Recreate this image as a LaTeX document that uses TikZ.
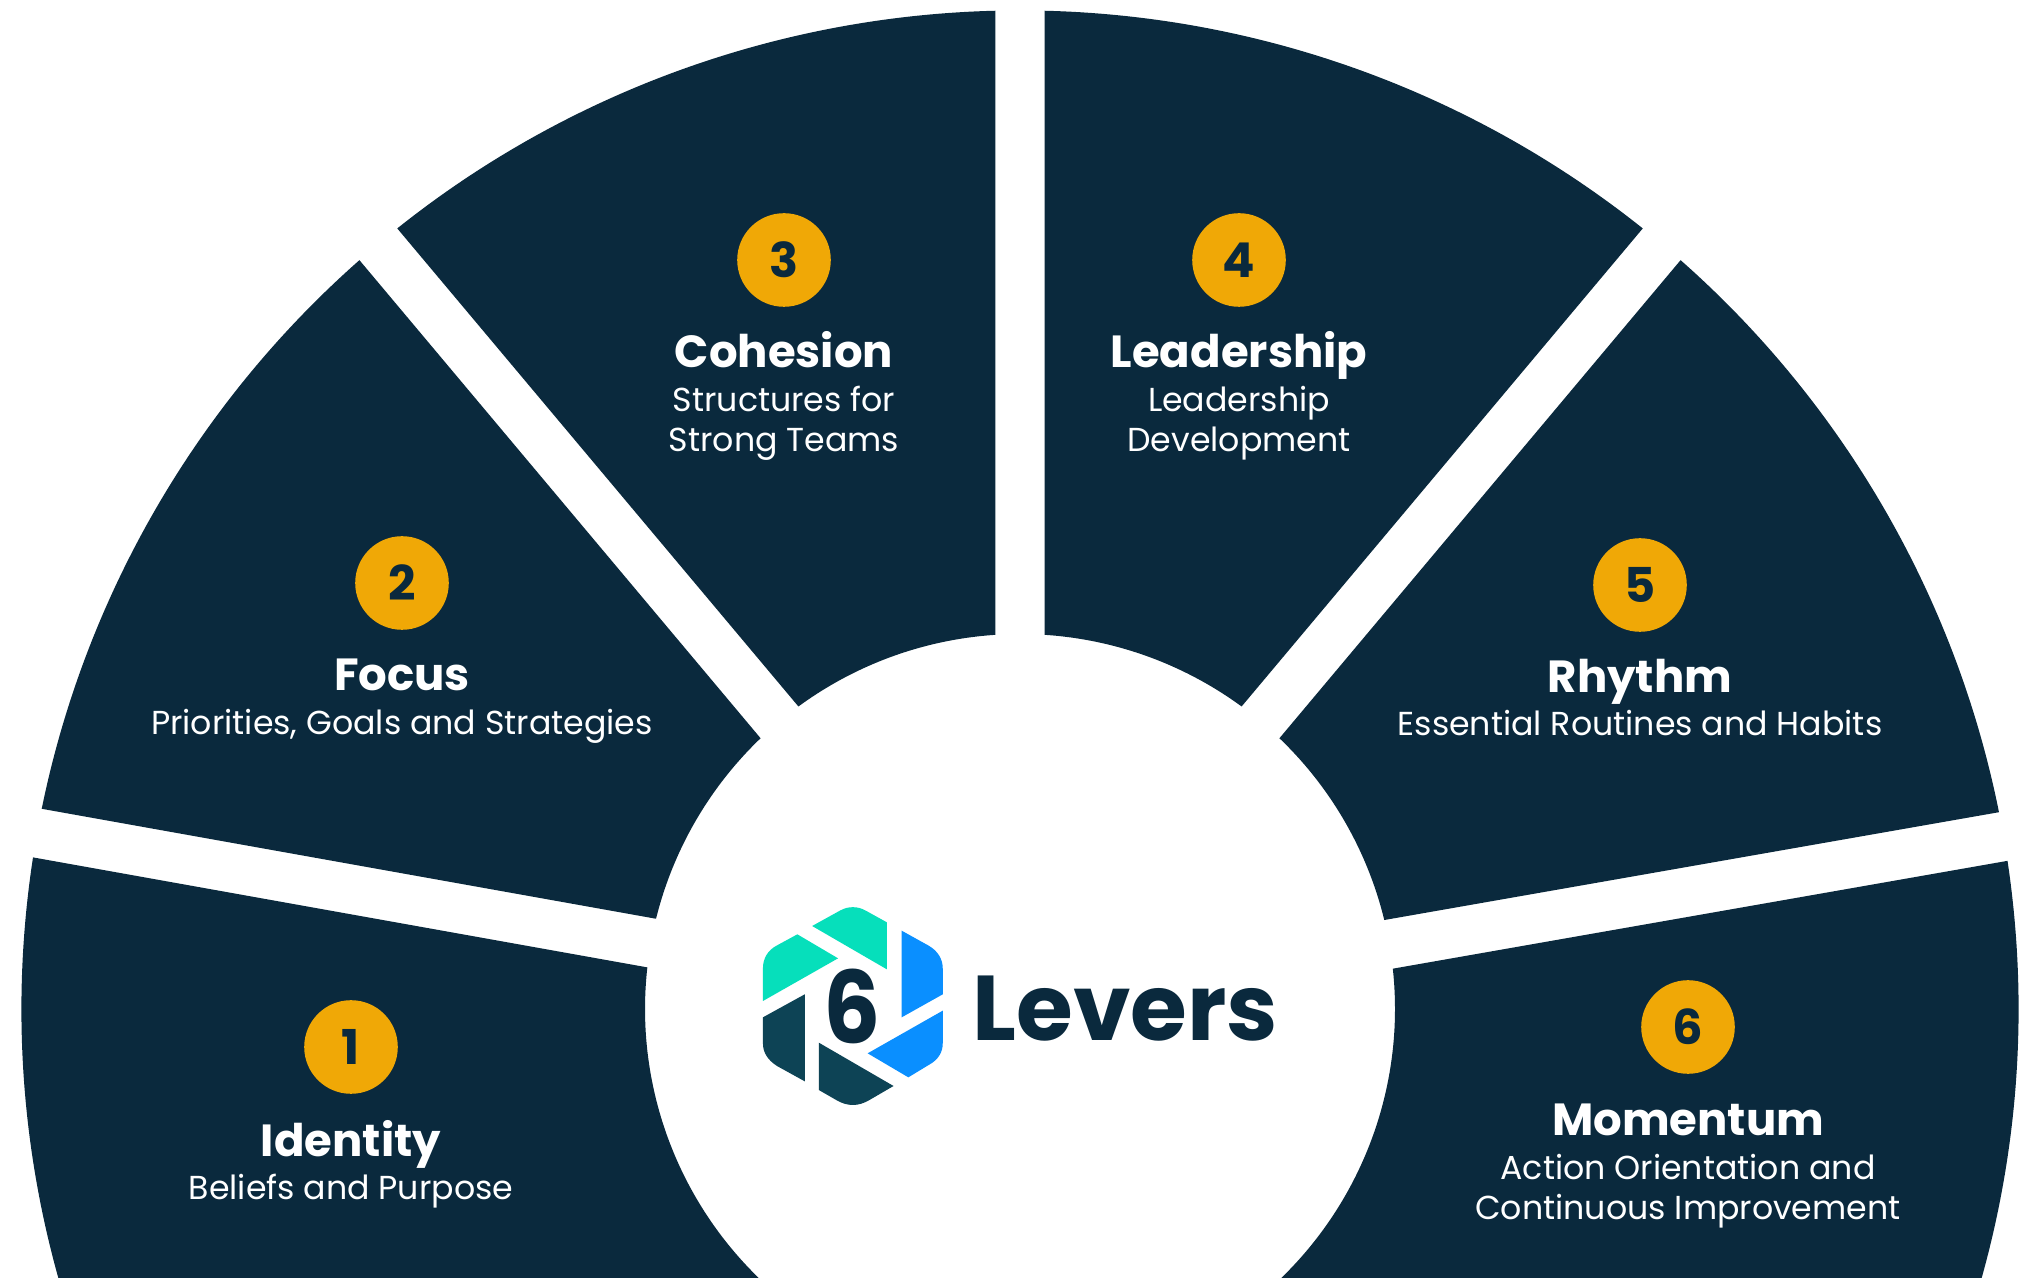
\documentclass[tikz,border=0pt]{standalone}
\usepackage{fontspec}
\setmainfont{Poppins}
\newfontfamily\heavy{Poppins Bold}
\definecolor{navy}{HTML}{0A293D}
\definecolor{amber}{HTML}{F0A806}
\definecolor{mint}{HTML}{06DFBB}
\definecolor{azure}{HTML}{0A8FFF}
\definecolor{deepteal}{HTML}{0D4355}
\tikzset{
  sectorfill/.style={fill=navy},
  badge/.style={circle,fill=amber,minimum size=93.6pt,inner sep=0pt,text=navy,font=\heavy\fontsize{48}{48}\selectfont},
  headline/.style={anchor=base,text=white,inner sep=0pt,font=\heavy\fontsize{45}{50}\selectfont},
  subline/.style={anchor=base,text=white,inner sep=0pt,align=center,font=\fontsize{33.2}{39.5}\selectfont},
}
\newcommand\sect[2]{\fill[sectorfill] (#1+3.777:375pt) -- (#1+1.417:998.6pt) arc[start angle=#1+1.417,end angle=#2-1.417,radius=998.6pt] -- (#2-3.777:375pt) arc[start angle=#2-3.777,end angle=#1+3.777,radius=375pt] -- cycle;}
\begin{document}
\begin{tikzpicture}[x=1pt,y=1pt]
\useasboundingbox (0,0) rectangle (2039,1277);
\fill[white] (0,0) rectangle (2039,1277);
\begin{scope}
\clip (0,0) rectangle (2039,1277);
\begin{scope}[shift={(1020,268)}]
\sect{169.85}{240}
\sect{130}{169.85}
\sect{90}{130}
\sect{50}{90}
\sect{9.95}{50}
\sect{-60}{9.95}
\end{scope}
\end{scope}
\node[badge] (b1) at (351,230) {1};
\node[badge] (b2) at (402,694) {2};
\node[badge] (b3) at (784,1017) {3};
\node[badge] (b4) at (1239,1017) {4};
\node[badge] (b5) at (1640,692) {5};
\node[badge] (b6) at (1688,250) {6};
\node[headline] (t1) at (351,121) {Identity};
\node[headline] (t2) at (402,586.5) {Focus};
\node[headline] (t3) at (784,909) {Cohesion};
\node[headline] (t4) at (1239,909) {Leadership};
\node[headline] (t5) at (1640,584) {Rhythm};
\node[headline] (t6) at (1688,142) {Momentum};
\node[subline] (s1) at (351,78) {Beliefs and Purpose};
\node[subline] (s2) at (402,542) {Priorities, Goals and Strategies};
\node[subline] (s3) at (784,825.5) {Structures for\\Strong Teams};
\node[subline] (s4) at (1239,825.5) {Leadership\\Development};
\node[subline] (s5) at (1640,541) {Essential Routines and Habits};
\node[subline] (s6) at (1688,58) {Action Orientation and\\Continuous Improvement};
% logo, in a frame of its own
\begin{scope}[shift={(740,397)},x=0.36996pt,y=-0.33333pt]
\fill[mint] (195,138) -- (270,92) .. controls (292,78) and (318,78) .. (340,92) -- (397,127) -- (397,268) -- cycle;
\fill[mint] (155,163) -- (265,235) -- (62,363) -- (62,265) .. controls (62,235) and (75,212) .. (97,198) -- cycle;
\fill[azure] (437,152) -- (510,197) .. controls (535,213) and (548,238) .. (548,265) -- (548,343) -- (437,412) -- cycle;
\fill[azure] (548,392) -- (548,490) .. controls (548,518) and (535,540) .. (510,555) -- (455,592) -- (345,520) -- cycle;
\fill[deepteal] (213,488) -- (415,618) -- (350,660) .. controls (320,680) and (290,680) .. (260,660) -- (213,630) -- cycle;
\fill[deepteal] (175,343) -- (175,604) -- (100,558) .. controls (75,540) and (62,518) .. (62,490) -- (62,412) -- cycle;
\node[inner sep=0pt,text=navy,font=\heavy\fontsize{100}{100}\selectfont,anchor=base,xscale=.9] (six) at (304,490) {6};
\node[inner sep=0pt,text=navy,font=\heavy\fontsize{92}{92}\selectfont,anchor=base west] (lev) at (628,482) {Levers};
\end{scope}
\end{tikzpicture}
\end{document}
